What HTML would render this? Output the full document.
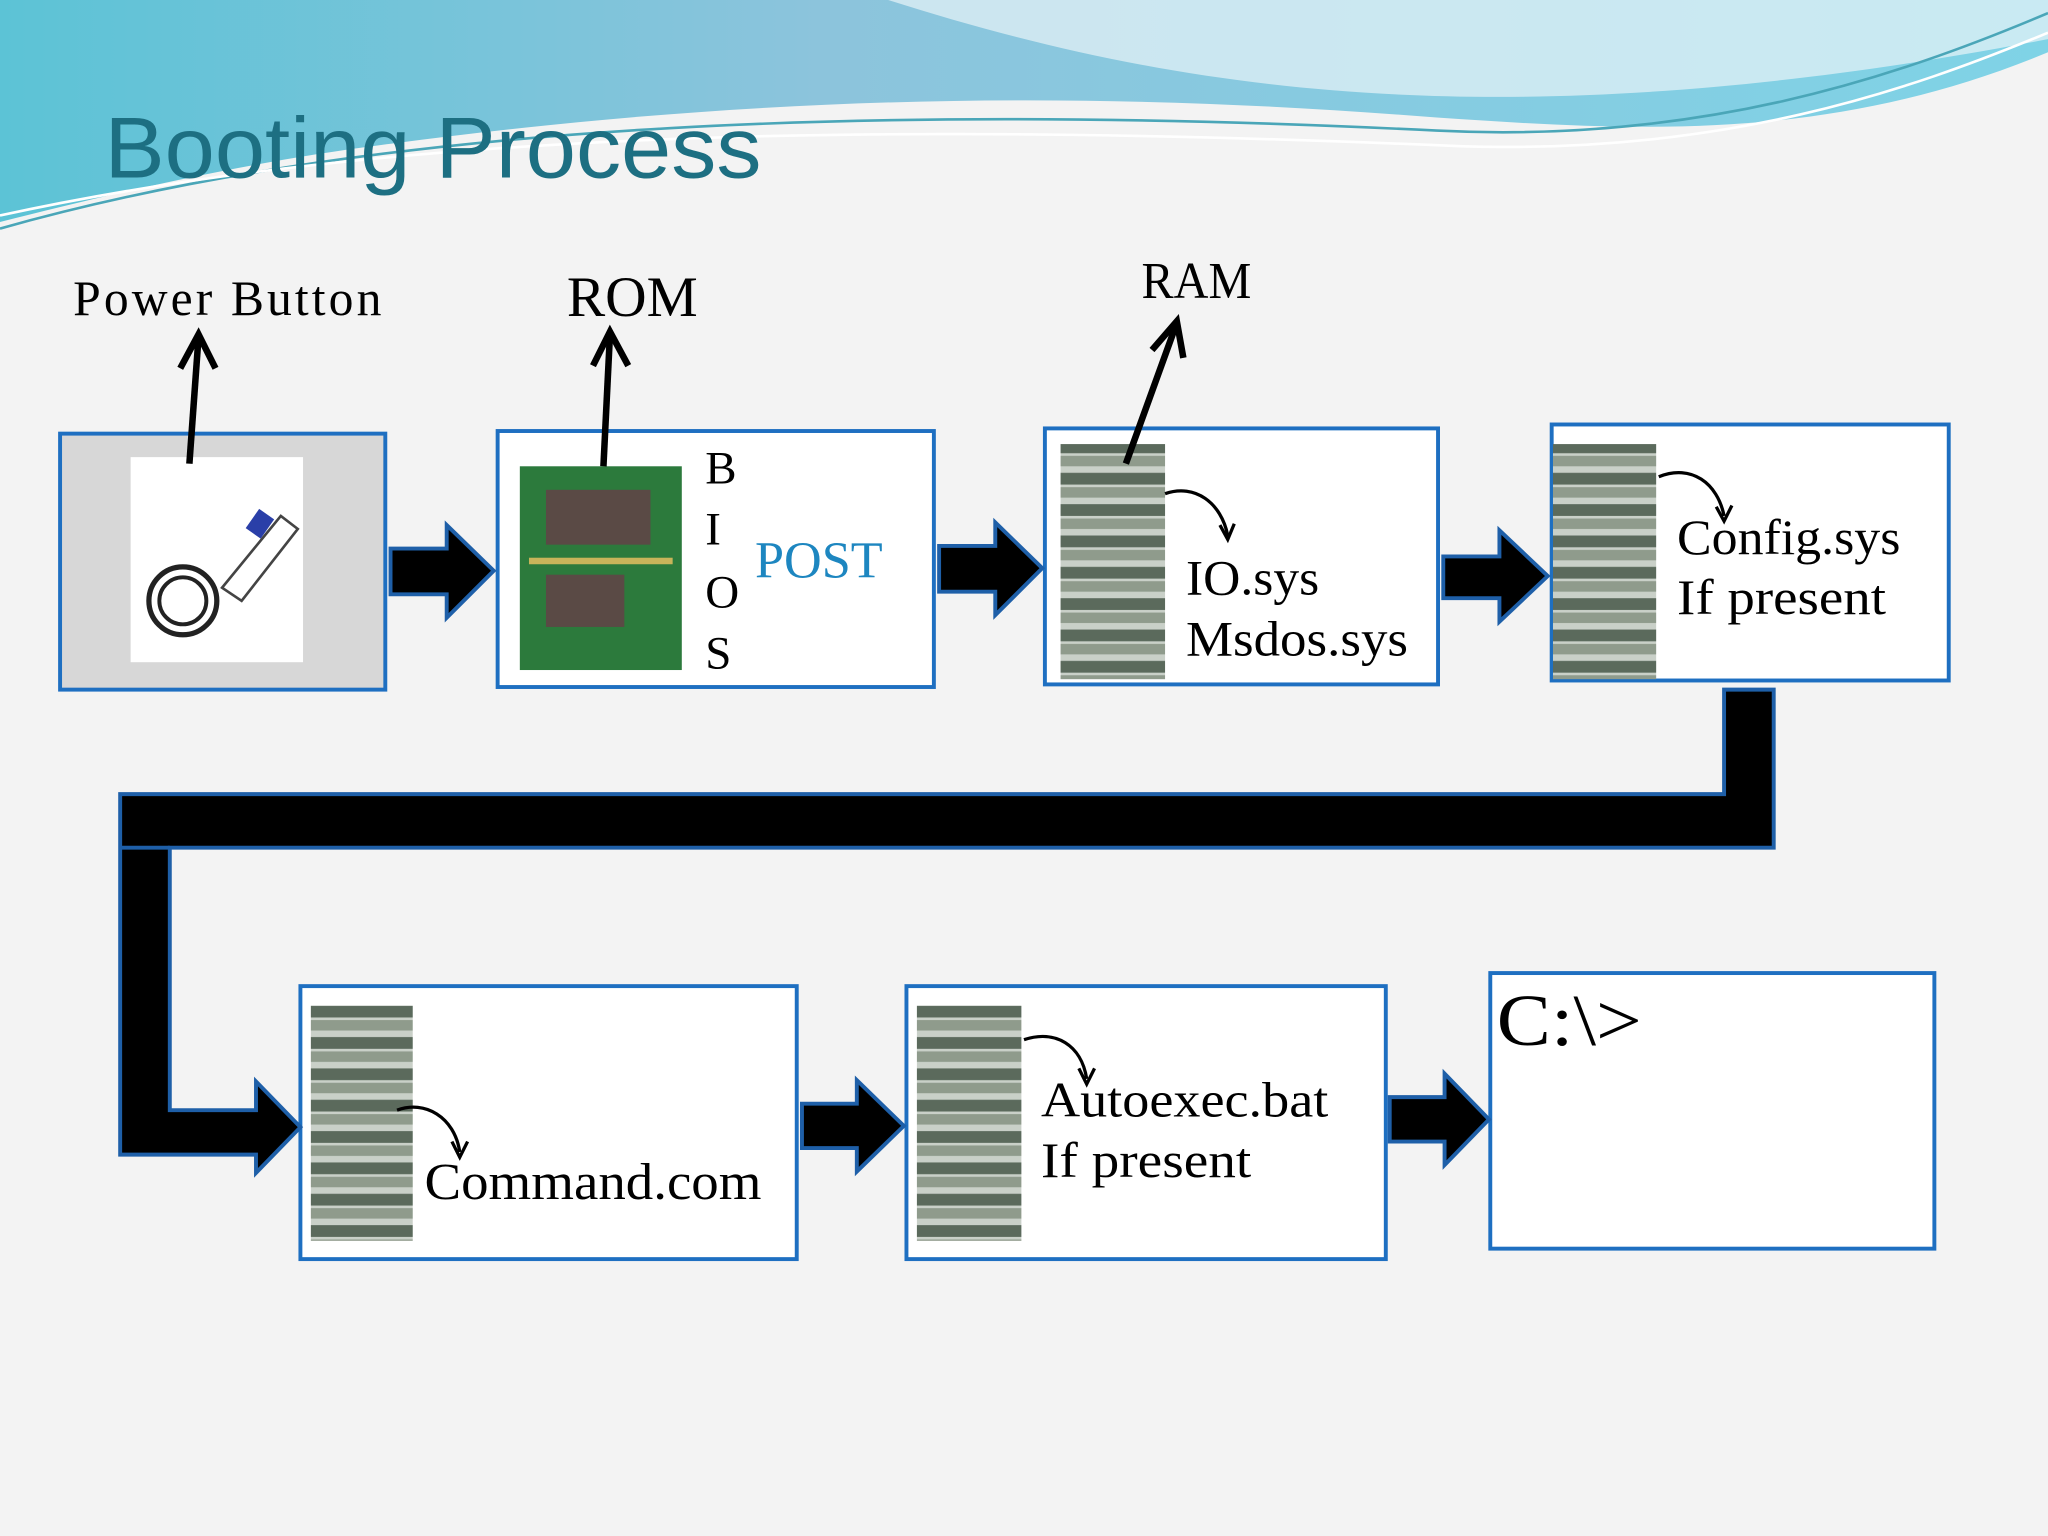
<!DOCTYPE html>
<html><head><meta charset="utf-8"><style>
html,body{margin:0;padding:0;width:2048px;height:1536px;overflow:hidden;background:#f3f3f3}
svg{display:block}
text{font-family:"Liberation Serif",serif;fill:#000}
</style></head><body>
<svg width="2048" height="1536" viewBox="0 0 1568 1176" xmlns="http://www.w3.org/2000/svg">
<defs>
<linearGradient id="sky" x1="0" y1="0" x2="1" y2="0">
<stop offset="0" stop-color="#5cc3d6"/><stop offset="0.4" stop-color="#8cc4dc"/><stop offset="1" stop-color="#7fd3e6"/></linearGradient>
<pattern id="ram" width="80" height="24" patternUnits="userSpaceOnUse">
<rect width="80" height="24" fill="#c9d0c8"/>
<rect y="2" width="80" height="9" fill="#5b6a5c"/><rect y="13" width="80" height="8" fill="#8f9b8c"/>
</pattern>
</defs>
<rect width="1568" height="1176" fill="#f3f3f3"/>
<path d="M0,0 H1568 V40 C1400,110 1250,100 1100,90 C850,70 600,70 300,110 C180,125 80,150 0,170 Z" fill="url(#sky)"/>
<path d="M680,0 C900,70 1150,110 1568,30 V0 Z" fill="#e8f4f8" opacity="0.7"/>
<path d="M0,175 C300,90 700,80 1100,100 C1300,110 1450,60 1568,10" stroke="#4aa6b8" stroke-width="2" fill="none"/>
<path d="M0,165 C320,95 720,95 1120,112 C1320,118 1460,70 1568,25" stroke="#ffffff" stroke-width="2" fill="none"/>
<text x="80" y="136" textLength="503" lengthAdjust="spacingAndGlyphs" style="font-family:'Liberation Sans',sans-serif;font-size:66px;fill:#1d6f82">Booting Process</text>

<text x="56" y="241" font-size="38" textLength="236" lengthAdjust="spacing">Power  Button</text>
<text x="434" y="242" font-size="44">ROM</text>
<text x="874" y="228" font-size="40" textLength="84" lengthAdjust="spacingAndGlyphs">RAM</text>

<rect x="46" y="332" width="249" height="196" fill="#d7d7d7" stroke="#1e6fc1" stroke-width="3"/>
<rect x="100" y="350" width="132" height="157" fill="#fff"/>
<circle cx="140" cy="460" r="26" fill="none" stroke="#222" stroke-width="4"/>
<circle cx="140" cy="460" r="18" fill="none" stroke="#222" stroke-width="3"/>
<path d="M170,450 L215,395 L228,405 L185,460 Z" fill="#fff" stroke="#444" stroke-width="2"/>
<rect x="192" y="392" width="14" height="18" fill="#2a3fa8" transform="rotate(35 199 401)"/>

<rect x="381" y="330" width="334" height="196" fill="#fff" stroke="#1e6fc1" stroke-width="3"/>
<rect x="398" y="357" width="124" height="156" fill="#2c7a3c"/>
<rect x="418" y="375" width="80" height="42" fill="#5a4a45"/>
<rect x="418" y="440" width="60" height="40" fill="#5a4a45"/>
<rect x="405" y="427" width="110" height="5" fill="#c8b45a"/>
<text x="540" y="370" font-size="36">B</text>
<text x="540" y="417" font-size="36">I</text>
<text x="540" y="465" font-size="36">O</text>
<text x="540" y="512" font-size="36">S</text>
<text x="578" y="442" font-size="40" style="fill:#1d86c0">POST</text>

<rect x="800" y="328" width="301" height="196" fill="#fff" stroke="#1e6fc1" stroke-width="3"/>
<rect x="812" y="340" width="80" height="180" fill="url(#ram)"/>
<text x="908" y="455" font-size="38" textLength="102" lengthAdjust="spacingAndGlyphs">IO.sys</text>
<text x="908" y="502" font-size="38" textLength="170" lengthAdjust="spacingAndGlyphs">Msdos.sys</text>

<rect x="1188" y="325" width="304" height="196" fill="#fff" stroke="#1e6fc1" stroke-width="3"/>
<rect x="1189" y="340" width="79" height="180" fill="url(#ram)"/>
<text x="1284" y="424" font-size="38" textLength="171" lengthAdjust="spacingAndGlyphs">Config.sys</text>
<text x="1284" y="470" font-size="38" textLength="160" lengthAdjust="spacingAndGlyphs">If present</text>

<rect x="230" y="755" width="380" height="209" fill="#fff" stroke="#1e6fc1" stroke-width="3"/>
<rect x="238" y="770" width="78" height="180" fill="url(#ram)"/>
<text x="325" y="918" font-size="40" textLength="258" lengthAdjust="spacingAndGlyphs">Command.com</text>

<rect x="694" y="755" width="367" height="209" fill="#fff" stroke="#1e6fc1" stroke-width="3"/>
<rect x="702" y="770" width="80" height="180" fill="url(#ram)"/>
<text x="797" y="855" font-size="38" textLength="220" lengthAdjust="spacingAndGlyphs">Autoexec.bat</text>
<text x="797" y="901" font-size="38" textLength="161" lengthAdjust="spacingAndGlyphs">If present</text>

<rect x="1141" y="745" width="340" height="211" fill="#fff" stroke="#1e6fc1" stroke-width="3"/>
<text x="1146" y="800" font-size="56" textLength="111" lengthAdjust="spacingAndGlyphs">C:\&gt;</text>

<g fill="#000" stroke="#1e5fa8" stroke-width="3">
<path d="M299,420 H342 V402 L378,437 L342,473 V455 H299 Z"/>
<path d="M719,418 H762 V400 L798,435 L762,471 V453 H719 Z"/>
<path d="M1105,426 H1148 V406 L1185,441 L1148,476 V458 H1105 Z"/>
<path d="M614,845 H656 V827 L692,862 L656,897 V879 H614 Z"/>
<path d="M1064,840 H1106 V822 L1140,857 L1106,892 V874 H1064 Z"/>
<path d="M1320,528 H1358 V649 H130 V850 H196 V828 L230,863 L196,898 V884 H92 V649 V608 H1320 Z"/>
</g>
<line x1="92" y1="649" x2="130" y2="649" stroke="#1e5fa8" stroke-width="3"/>

<g stroke="#000" stroke-width="5" fill="none">
<line x1="145" y1="355" x2="152" y2="258"/><path d="M138,282 L152,256 L165,282"/>
<line x1="462" y1="357" x2="467" y2="256"/><path d="M454,280 L467,254 L481,280"/>
<line x1="862" y1="355" x2="900" y2="250"/><path d="M882,268 L901,246 L906,274"/>
</g>
<g stroke="#000" stroke-width="2.5" fill="none">
<path d="M892,378 C915,370 935,385 940,410"/><path d="M934,402 L940,413 L945,401"/>
<path d="M1270,365 C1295,355 1315,370 1320,395"/><path d="M1314,388 L1320,399 L1326,387"/>
<path d="M304,850 C325,842 348,855 352,882"/><path d="M346,874 L352,886 L358,874"/>
<path d="M784,796 C808,788 828,800 832,826"/><path d="M826,818 L832,830 L838,818"/>
</g>
</svg>
</body></html>
